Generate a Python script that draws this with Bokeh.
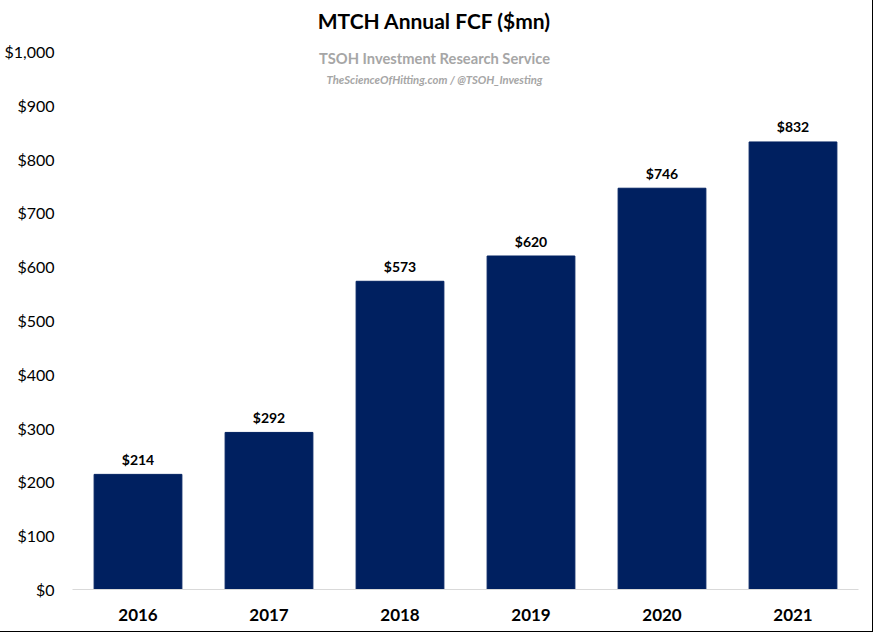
from bokeh.plotting import figure
from bokeh.models import Label, NumeralTickFormatter, FixedTicker, Range1d, FactorRange
from bokeh.core.properties import value
from bokeh.embed import file_html
from bokeh.resources import INLINE

years = ["2016", "2017", "2018", "2019", "2020", "2021"]
fcf = [214, 292, 573, 620, 746, 832]
labels = ["$" + str(v) for v in fcf]
y_ticks = [0, 100, 200, 300, 400, 500, 600, 700, 800, 900, 1000]

title_text = "MTCH Annual FCF ($mn)"
sub1_text = "TSOH Investment Research Service"
sub2_text = "TheScienceOfHitting.com / @TSOH_Investing"

FONT = "Lato"
Y_END = 1095  # frame reaches the top of the figure so the title sits inside it
TITLE_X = 362  # screen px, relative to the frame's left edge

p = figure(
    x_range=FactorRange(*years, range_padding=0),
    y_range=Range1d(0, Y_END),
    width=869, height=628,
    min_border_left=72, min_border_right=11, min_border_top=0, min_border_bottom=39,
    output_backend="svg", toolbar_location=None,
)
p.styles = {"box-shadow": "0 0 0 3px #ffffff, 0 0 0 4px #000000"}

p.vbar(x=years, top=fcf, width=0.67, color="#002060")
p.text(x=years, y=fcf, text=labels, text_align="center", text_baseline="middle",
       y_offset=-15, text_font=value(FONT), text_font_style="bold",
       text_font_size="14px", text_color="#000000")

p.outline_line_color = None
p.xgrid.grid_line_color = None
p.ygrid.grid_line_color = None

p.yaxis.ticker = FixedTicker(ticks=y_ticks)
p.yaxis.formatter = NumeralTickFormatter(format="$0,0")
p.yaxis.axis_line_color = None
p.yaxis.major_tick_line_color = None
p.yaxis.minor_tick_line_color = None
p.yaxis.major_tick_out = 0
p.yaxis.major_tick_in = 0
p.yaxis.minor_tick_out = 0
p.yaxis.major_label_standoff = 18
p.yaxis.major_label_text_font = FONT
p.yaxis.major_label_text_font_size = "16px"
p.yaxis.major_label_text_color = "#000000"

p.xaxis.axis_line_color = "#d9d9d9"
p.xaxis.axis_line_width = 1
p.xaxis.major_tick_line_color = None
p.xaxis.minor_tick_line_color = None
p.xaxis.major_tick_out = 0
p.xaxis.major_tick_in = 0
p.xaxis.minor_tick_out = 0
p.xaxis.major_label_standoff = 19
p.xaxis.major_label_text_font = FONT
p.xaxis.major_label_text_font_style = "bold"
p.xaxis.major_label_text_font_size = "17px"
p.xaxis.major_label_text_color = "#000000"

p.add_layout(Label(x=TITLE_X, x_units="screen", y=1057, text=title_text,
                   text_align="center", text_baseline="middle",
                   text_font=FONT, text_font_style="bold", text_font_size="21px",
                   text_color="#000000"))
p.add_layout(Label(x=TITLE_X, x_units="screen", y=989, text=sub1_text,
                   text_align="center", text_baseline="middle",
                   text_font=FONT, text_font_style="bold", text_font_size="14.7px",
                   text_color="#a6a6a6"))
p.add_layout(Label(x=TITLE_X, x_units="screen", y=948, text=sub2_text,
                   text_align="center", text_baseline="middle",
                   text_font=FONT, text_font_style="bold italic", text_font_size="11.3px",
                   text_color="#a6a6a6"))

open("out.html", "w").write(file_html(p, INLINE))
